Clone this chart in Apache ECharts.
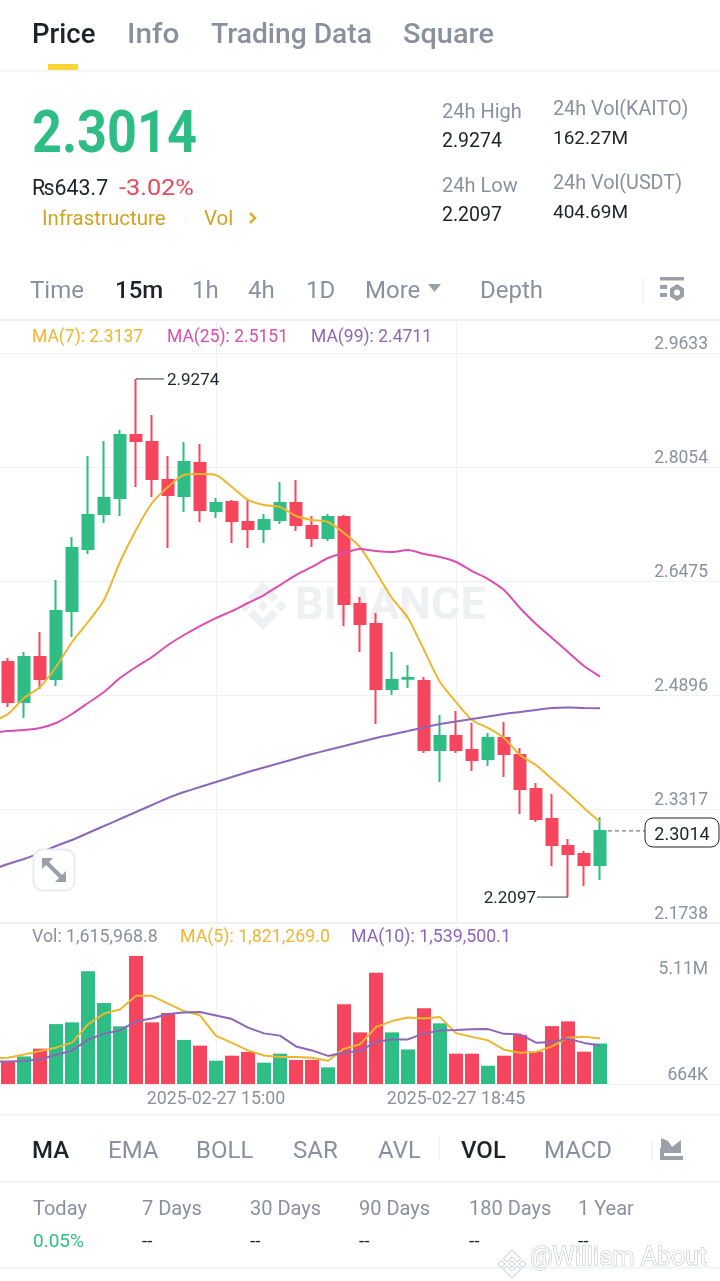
<!DOCTYPE html>
<html>
<head>
<meta charset="utf-8">
<style>html,body{margin:0;padding:0;background:#fff}#c{width:720px;height:1281px}</style>
<script src="https://cdn.jsdelivr.net/npm/echarts@6/dist/echarts.min.js"></script>
</head>
<body>
<div id="c"></div>
<script>
// 15-minute slots; the first sits just off the left edge, the last ones are the empty right margin
const times = ['11:30','11:45','12:00','12:15','12:30','12:45','13:00','13:15','13:30','13:45','14:00','14:15','14:30','14:45','15:00','15:15','15:30','15:45','16:00','16:15','16:30','16:45','17:00','17:15','17:30','17:45','18:00','18:15','18:30','18:45','19:00','19:15','19:30','19:45','20:00','20:15','20:30','20:45','21:00','21:15','21:30','21:45','22:00','22:15','22:30','22:45'];
const opens  = [null,2.5353,2.4799,2.5422,2.5117,2.6059,2.6918,2.7403,2.7624,2.8497,2.8400,2.7874,2.7652,2.8109,2.7444,2.7569,2.7292,2.7195,2.7320,2.7555,2.7236,2.7070,2.7361,2.6156,2.5879,2.4979,2.5122,2.5090,2.4134,2.4328,2.4134,2.4009,2.4300,2.4065,2.3594,2.3178,2.2804,2.2694,2.2541];
const closes = [null,2.4799,2.5422,2.5117,2.6059,2.6932,2.7389,2.7624,2.8497,2.8414,2.7887,2.7666,2.8123,2.7458,2.7555,2.7306,2.7195,2.7320,2.7555,2.7250,2.7070,2.7361,2.6156,2.5879,2.4979,2.5104,2.5131,2.4134,2.4328,2.4134,2.3996,2.4300,2.4079,2.3594,2.3178,2.2818,2.2694,2.2541,2.3014];
const lows   = [null,2.4730,2.4577,2.4979,2.5020,2.5699,2.6849,2.7278,2.7375,2.7777,2.7638,2.6932,2.7430,2.7292,2.7347,2.7001,2.6932,2.7001,2.7264,2.7167,2.6946,2.7029,2.5851,2.5491,2.4494,2.4896,2.4993,2.4093,2.3691,2.4093,2.3843,2.3912,2.3760,2.3248,2.3137,2.2527,2.2097,2.2250,2.2334];
const highs  = [null,2.5408,2.5491,2.5768,2.6489,2.7084,2.8206,2.8414,2.8566,2.9274,2.8774,2.8206,2.8400,2.8372,2.7624,2.7597,2.7597,2.7403,2.7846,2.7874,2.7375,2.7403,2.7389,2.6253,2.6032,2.5491,2.5311,2.5145,2.4619,2.4674,2.4508,2.4370,2.4522,2.4162,2.3677,2.3525,2.2901,2.2735,2.3206];
const ma7  = [2.4522,2.4633,2.4854,2.5007,2.5284,2.5630,2.5907,2.6212,2.6738,2.7181,2.7555,2.7777,2.7943,2.7957,2.7943,2.7777,2.7597,2.7527,2.7500,2.7375,2.7320,2.7292,2.7140,2.6946,2.6599,2.6239,2.5962,2.5519,2.5076,2.4799,2.4550,2.4439,2.4300,2.4065,2.3926,2.3732,2.3538,2.3331,2.3137];
const ma25 = [2.4370,2.4397,2.4411,2.4439,2.4508,2.4633,2.4785,2.4937,2.5131,2.5284,2.5422,2.5588,2.5727,2.5851,2.5962,2.6059,2.6170,2.6281,2.6419,2.6558,2.6669,2.6793,2.6863,2.6918,2.6890,2.6876,2.6904,2.6849,2.6807,2.6738,2.6613,2.6502,2.6350,2.6101,2.5879,2.5685,2.5491,2.5297,2.5151];
const ma99 = [2.2472,2.2555,2.2624,2.2708,2.2804,2.2888,2.2985,2.3081,2.3178,2.3275,2.3372,2.3469,2.3552,2.3621,2.3691,2.3760,2.3829,2.3892,2.3954,2.4016,2.4079,2.4134,2.4189,2.4245,2.4300,2.4349,2.4397,2.4446,2.4494,2.4529,2.4563,2.4598,2.4633,2.4660,2.4688,2.4716,2.4723,2.4716,2.4711];
const volumes = [null,0.88,1.10,1.41,2.39,2.46,4.50,3.23,2.30,5.11,2.46,2.83,1.76,1.53,0.93,1.13,1.28,0.85,1.21,0.96,0.96,0.664,3.18,2.06,4.44,2.06,1.38,3.02,2.42,1.21,1.21,0.73,1.13,1.96,1.29,2.31,2.50,1.29,1.616];
const volMa5  = [1.02,1.05,1.18,1.32,1.45,1.65,2.38,2.81,2.97,3.52,3.52,3.21,2.91,2.74,1.92,1.64,1.34,1.14,1.08,1.08,1.05,0.93,1.41,1.58,2.27,2.51,2.65,2.61,2.67,2.03,1.88,1.74,1.37,1.25,1.28,1.50,1.85,1.89,1.82];
const volMa10 = [0.90,0.90,0.92,0.98,1.17,1.33,1.77,2.01,2.14,2.50,2.61,2.79,2.85,2.87,2.73,2.59,2.25,2.02,1.93,1.50,1.34,1.12,1.26,1.32,1.68,1.78,1.78,2.02,2.13,2.15,2.18,2.19,2.00,1.98,1.65,1.68,1.81,1.64,1.54];
const dateLabels = ['2025-02-27 15:00','2025-02-27 18:45'];

const GREEN='#2EBD85', RED='#F6465D', YEL='#EDB62F', MAG='#DD4DAE', PUR='#8D66B8';
const GRAY='#8A919E', DARK='#1E2329', LINE='#EFF1F3', FONT='Roboto, sans-serif';
const cats = times.map(t=>'2025-02-27 '+t);
const candle = opens.map((o,i)=> o==null ? ['-','-','-','-'] : [o,closes[i],lows[i],highs[i]]);
const vbars = volumes.map((v,i)=> v==null ? '-' : {value:v,itemStyle:{color:closes[i]>=opens[i]?GREEN:RED}});
const vLines = {silent:true,symbol:'none',z:1,animation:false,label:{show:false},lineStyle:{color:LINE,width:1,type:'solid'},
  data:dateLabels.map(d=>({xAxis:d}))};

const chart = echarts.init(document.getElementById('c'),null,{width:720,height:1281});
chart.setOption({
  animation:false, backgroundColor:'#fff',
  grid:[{left:-16,width:736,top:320,height:603,outerBoundsMode:'none'},{left:-16,width:736,top:925,height:159,outerBoundsMode:'none'}],
  xAxis:[
    {type:'category',data:cats,gridIndex:0,axisLabel:{show:false},axisTick:{show:false},axisLine:{show:true,lineStyle:{color:LINE,width:2}},splitLine:{show:false}},
    {type:'category',data:cats,gridIndex:1,axisTick:{show:false},axisLine:{show:true,lineStyle:{color:LINE,width:1}},splitLine:{show:false},
     axisLabel:{show:true,margin:7,fontFamily:FONT,fontSize:17.8,color:GRAY,hideOverlap:false,interval:(i,v)=>dateLabels.includes(v),formatter:v=>v}}
  ],
  yAxis:[
    {type:'value',gridIndex:0,position:'right',min:2.1738,max:3.009,interval:0.1579,
     axisLine:{show:false},axisTick:{show:false},splitLine:{show:true,lineStyle:{color:LINE,width:1}},
     axisLabel:{inside:true,margin:12,verticalAlign:'bottom',padding:[0,0,-1,0],showMaxLabel:false,fontFamily:FONT,fontSize:17.5,color:GRAY,formatter:v=>v.toFixed(4)}},
    {type:'value',gridIndex:1,min:0,max:6.344,show:false,splitLine:{show:false}}
  ],
  series:[
    {type:'candlestick',xAxisIndex:0,yAxisIndex:0,data:candle,barWidth:12,z:2,markLine:vLines,
     itemStyle:{color:GREEN,color0:RED,borderColor:GREEN,borderColor0:RED,borderWidth:2}},
    {type:'line',xAxisIndex:0,yAxisIndex:0,data:ma7,showSymbol:false,smooth:0.25,z:3,lineStyle:{color:YEL,width:2}},
    {type:'line',xAxisIndex:0,yAxisIndex:0,data:ma25,showSymbol:false,smooth:0.25,z:3,lineStyle:{color:MAG,width:2}},
    {type:'line',xAxisIndex:0,yAxisIndex:0,data:ma99,showSymbol:false,smooth:0.5,z:3,lineStyle:{color:PUR,width:2}},
    {type:'bar',xAxisIndex:1,yAxisIndex:1,data:vbars,barWidth:14,z:2,markLine:vLines},
    {type:'line',xAxisIndex:1,yAxisIndex:1,data:volMa5,showSymbol:false,z:3,lineStyle:{color:YEL,width:2}},
    {type:'line',xAxisIndex:1,yAxisIndex:1,data:volMa10,showSymbol:false,z:3,lineStyle:{color:PUR,width:2}}
  ]
});

// ---- page furniture, drawn once the scales exist ----
const T=(x,y,text,size,fill,o={})=>({type:'text',x,y:y+(o.dy==null?2:o.dy),z:o.z||20,scaleX:o.sx||1,
  style:{text,fill,font:`${o.w||400} ${size}px ${o.f||FONT}`,align:o.a||'left',verticalAlign:'middle',
    stroke:o.stroke,lineWidth:o.lw||0}});
const R=(x,y,w,h,fill,o={})=>({type:'rect',z:o.z||20,shape:{x,y,width:w,height:h,r:o.r||0},style:{fill,stroke:o.stroke,lineWidth:o.lw||0}});
const P=(pts,fill,o={})=>({type:'polygon',z:o.z||20,shape:{points:pts},style:{fill,stroke:o.stroke,lineWidth:o.lw||0}});
const L=(pts,stroke,lw,o={})=>({type:'polyline',z:o.z||20,shape:{points:pts},style:{stroke,lineWidth:lw,fill:'none',lineDash:o.dash}});
const logo=(cx,cy,r,fill,o={})=>[
  [[0,-.22],[.22,0],[0,.22],[-.22,0]],
  [[-1,0],[-.75,-.24],[-.5,0],[-.75,.24]],
  [[1,0],[.75,-.24],[.5,0],[.75,.24]],
  [[0,-1],[.62,-.38],[.38,-.14],[0,-.52],[-.38,-.14],[-.62,-.38]],
  [[0,1],[.62,.38],[.38,.14],[0,.52],[-.38,.14],[-.62,.38]]
].map(s=>P(s.map(p=>[cx+p[0]*r,cy+p[1]*r]),fill,o));

const px=(i,v)=>chart.convertToPixel({xAxisIndex:0,yAxisIndex:0},[cats[i],v]);
const hi=px(9,2.9274), lo=px(36,2.2097), last=px(38,2.3014);

const els=[
  // header tabs
  T(32,34,'Price',27.5,DARK,{w:500}),T(127,34,'Info',27,GRAY,{w:500,sx:1.1}),T(211,34,'Trading Data',27,GRAY,{w:500,sx:1.045}),T(403,34,'Square',27,GRAY,{w:500,sx:1.07}),
  R(48,64,30,6,'#FCD535'),R(0,70,720,1.5,LINE),
  // ticker
  T(32,132,'2.3014',60,GREEN,{w:700,sx:.87,dy:5}),
  T(32,187,'₨643.7',22,DARK,{sx:.97}),T(119,187,'-3.02%',22,'#E8475C',{sx:1.15}),
  T(42,218,'Infrastructure',20.5,'#D0A223'),R(185,214,1,8,LINE),T(204,218,'Vol',20.5,'#D0A223'),
  L([[250,213],[255,218],[250,223]],'#E0AE2A',2.5),
  T(442,111,'24h High',20,GRAY),T(442,140,'2.9274',19.5,DARK),T(442,185,'24h Low',20,GRAY),T(442,214,'2.2097',19.5,DARK),
  T(553,108,'24h Vol(KAITO)',19.8,GRAY),T(553,137,'162.27M',19,DARK),T(553,182,'24h Vol(USDT)',19.8,GRAY),T(553,211,'404.69M',19,DARK),
  // interval row
  T(30,290,'Time',24,GRAY),T(115,290,'15m',24,DARK,{w:500}),T(192,290,'1h',24,GRAY),T(248,290,'4h',24,GRAY),T(306,290,'1D',24,GRAY),T(365,290,'More',24,GRAY),
  P([[428,284],[441,284],[434.5,292]],'#9AA0A8'),T(480,290,'Depth',24,GRAY),R(642,278,1.5,24,LINE),
  R(660,277,24,3.5,'#9AA0A8'),R(660,285,7,4,'#9AA0A8'),R(660,293,7,4,'#9AA0A8'),
  P([[677,284],[684,288.5],[684,296.5],[677,301],[670,296.5],[670,288.5]],'#9AA0A8'),{type:'circle',z:21,shape:{cx:677,cy:292.5,r:3},style:{fill:'#fff'}},
  R(0,319,720,2,LINE),
  // MA readouts
  T(32,336,'MA(7): 2.3137',17.5,YEL),T(167,336,'MA(25): 2.5151',17.5,MAG),T(311,336,'MA(99): 2.4711',17.5,PUR),
  T(32,936,'Vol: 1,615,968.8',17.8,GRAY),T(180,936,'MA(5): 1,821,269.0',17.8,YEL),T(351,936,'MA(10): 1,539,500.1',17.8,PUR),
  T(708,968,'5.11M',17.5,GRAY,{a:'right'}),T(708,1074,'664K',17.5,GRAY,{a:'right'}),
  // watermark
  ...logo(263,606,24,'#EEF0F2',{z:1}),
  T(295,606,'BINANCE',45,'#EEF0F2',{w:700,z:1}),
  // high / low / last annotations
  L([[hi[0],hi[1]],[hi[0]+28,hi[1]]],'#555B66',1.2),T(hi[0]+31,hi[1],'2.9274',17,DARK),
  L([[lo[0]-31,lo[1]],[lo[0],lo[1]]],'#555B66',1.2),T(lo[0]-32,lo[1],'2.2097',17,DARK,{a:'right'}),
  L([[608,last[1]],[645,last[1]]],'#555B66',1,{dash:[4,3]}),
  R(645,818,74,29,'#fff',{r:8,stroke:DARK,lw:1}),T(682,833,'2.3014',18,DARK,{a:'center'}),
  // expand button
  R(33.5,849.5,41,41,'#fff',{r:9,stroke:'#E9EBEE',lw:2}),
  L([[47,863],[61,877]],'#9AA0A8',4,{z:21}),
  P([[42,858],[53,858],[42,869]],'#9AA0A8',{z:21}),P([[66,882],[55,882],[66,871]],'#9AA0A8',{z:21}),
  // indicator row
  R(0,1114,720,1.5,LINE),
  T(32,1150,'MA',24,DARK,{w:500}),T(108,1150,'EMA',24,GRAY),T(196,1150,'BOLL',24,GRAY),T(293,1150,'SAR',24,GRAY),T(378,1150,'AVL',24,GRAY),R(439,1136,1,24,LINE),
  T(461,1150,'VOL',24,DARK,{w:500}),T(544,1150,'MACD',24,GRAY),R(651,1140,1.5,20,LINE),
  L([[662,1148],[662,1158],[683,1158]],'#9AA0A8',4),P([[661,1138],[661,1153],[681,1153],[681,1140],[672,1147],[668,1141]],'#9AA0A8'),
  R(0,1181,720,1.5,LINE),
  // performance row
  T(33,1208,'Today',20,GRAY),T(142,1208,'7 Days',20,GRAY),T(250,1208,'30 Days',20,GRAY),T(359,1208,'90 Days',20,GRAY),T(469,1208,'180 Days',20,GRAY),T(578,1208,'1 Year',20,GRAY),
  T(33,1240,'0.05%',19,GREEN),T(142,1240,'--',19,DARK),T(250,1240,'--',19,DARK),T(359,1240,'--',19,DARK),T(469,1240,'--',19,DARK),T(578,1240,'--',19,DARK),
  R(0,1267,720,1.5,LINE),
  // signature
  ...logo(512,1264,14,'#fff',{stroke:'#C4C8CE',lw:1,z:22}),
  T(530,1257,'@William About',25,'#fff',{stroke:'#B4B9C0',lw:1,z:22})
];
chart.setOption({graphic:[{elements:els}]});
</script>
</body>
</html>
